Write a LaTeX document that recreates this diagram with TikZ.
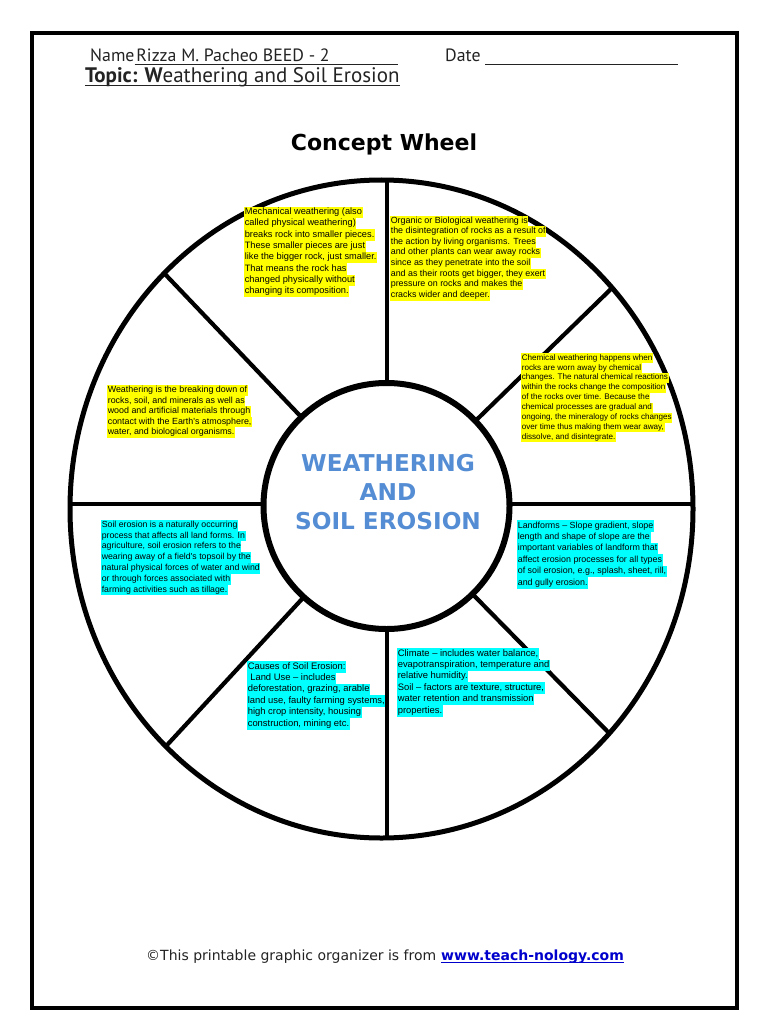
\documentclass[tikz,border=0pt]{standalone}
\usepackage{fontspec}
\setmainfont{DejaVu Sans}
\newfontfamily\hdrfont{PT Sans}
\newfontfamily\boxff{Liberation Sans}
\newfontfamily\vfont{DejaVu Sans}
\usetikzlibrary{calc}
\definecolor{hlyellow}{RGB}{255,255,0}
\definecolor{hlcyan}{RGB}{0,255,255}
\definecolor{centerblue}{RGB}{84,141,212}
\definecolor{linkblue}{RGB}{0,0,204}
\definecolor{hdrgray}{RGB}{35,35,35}
\setlength{\fboxsep}{0pt}
\newcommand\hy[1]{\colorbox{hlyellow}{\strut\kern0.6pt #1\kern0.6pt}}
\newcommand\hc[1]{\colorbox{hlcyan}{\strut\kern0.6pt #1\kern0.6pt}}
\newcommand\bxsz[2]{\boxff\fontsize{#1}{#2}\selectfont}
\tikzset{
  hdr/.style={inner sep=0pt, anchor=base west, text=hdrgray, font=\hdrfont\fontsize{17.8}{20}\selectfont},
  txtbox/.style={inner sep=0pt, anchor=north west, align=left},
  spoke/.style={line width=4.2pt},
}
\begin{document}
\begin{tikzpicture}[x=1pt,y=-1pt]
\useasboundingbox (0,0) rectangle (768,1024);
\fill[white] (0,0) rectangle (768,1024);
% page border
\draw[line width=4pt] (32,33) rectangle (737,1008);

% header
\node[hdr] (name) at (90,62) {Name};
\node[hdr] (nameval) at ($(name.base east)+(1.5,0)$) {Rizza M. Pacheo BEED - 2};
\draw[line width=0.9pt, hdrgray] ($(name.base east)+(0,2.2)$) -- (398,64.2);
\node[hdr] (date) at (445,62) {Date};
\draw[line width=0.9pt, hdrgray] (485,64.2) -- (678,64.2);
\node[hdr, font=\hdrfont\fontsize{21}{24}\selectfont] (topic) at (85,83) {\textbf{Topic: W}eathering and Soil Erosion};
\draw[line width=1pt, hdrgray] ($(topic.base west)+(0,2.8)$) -- ($(topic.base east)+(0,2.8)$);

% title
\node[inner sep=0pt, anchor=base, font=\vfont\bfseries\fontsize{22}{26}\selectfont] (title) at (384,151) {Concept Wheel};

% wheel geometry
\coordinate (C) at (387,507);
\coordinate (CH) at (387,504);
\coordinate (pT) at (387,150);
\coordinate (pB) at (387,870);
\coordinate (pL) at (40,504);
\coordinate (pR) at (730,504);
\coordinate (pUL) at (163,272);
\coordinate (pUR) at (612,288);
\coordinate (pLL) at (168,744);
\coordinate (pLR) at (608,732);
\begin{scope}
  \clip (381.5,509) ellipse [x radius=311.5, y radius=329];
  \draw[spoke] (C) -- (pT);
  \draw[spoke] (C) -- (pB);
  \draw[spoke] (CH) -- (pL);
  \draw[spoke] (CH) -- (pR);
  \draw[spoke] (C) -- ($(C)!1.15!(pUL)$);
  \draw[spoke] (C) -- ($(C)!1.15!(pUR)$);
  \draw[spoke] (C) -- ($(C)!1.15!(pLL)$);
  \draw[spoke] (C) -- ($(C)!1.15!(pLR)$);
\end{scope}
\draw[line width=5pt] (381.5,509) ellipse [x radius=311.5, y radius=329];
\draw[line width=6pt, fill=white] (386.5,506) circle [radius=123];

% centre text
\node[inner sep=0pt, align=center, text=centerblue, font=\vfont\bfseries\fontsize{23.2}{29}\selectfont] (hub) at (388,492) {WEATHERING\\AND\\SOIL EROSION};

% text boxes
\node[txtbox, font={\bxsz{9.25}{11.3}}] (mech) at (244,206.5) {\hy{Mechanical weathering (also}\\\hy{called physical weathering)}\\\hy{breaks rock into smaller pieces.}\\\hy{These smaller pieces are just}\\\hy{like the bigger rock, just smaller.}\\\hy{That means the rock has}\\\hy{changed physically without}\\\hy{changing its composition.}};

\node[txtbox, font={\bxsz{8.9}{10.6}}] (org) at (390,215.5) {\hy{Organic or Biological weathering is}\\\hy{the disintegration of rocks as a result of}\\\hy{the action by living organisms. Trees}\\\hy{and other plants can wear away rocks}\\\hy{since as they penetrate into the soil}\\\hy{and as their roots get bigger, they exert}\\\hy{pressure on rocks and makes the}\\\hy{cracks wider and deeper.}};

\node[txtbox, font={\bxsz{8.1}{9.9}}] (chem) at (521,353) {\hy{Chemical weathering happens when}\\\hy{rocks are worn away by chemical}\\\hy{changes. The natural chemical reactions}\\\hy{within the rocks change the composition}\\\hy{of the rocks over time. Because the}\\\hy{chemical processes are gradual and}\\\hy{ongoing, the mineralogy of rocks changes}\\\hy{over time thus making them wear away,}\\\hy{dissolve, and disintegrate.}};

\node[txtbox, font={\bxsz{8.9}{10.5}}] (weath) at (107,385) {\hy{Weathering is the breaking down of}\\\hy{rocks, soil, and minerals as well as}\\\hy{wood and artificial materials through}\\\hy{contact with the Earth's atmosphere,}\\\hy{water, and biological organisms.}};

\node[txtbox, font={\bxsz{8.75}{10.8}}] (soil) at (101,519.5) {\hc{Soil erosion is a naturally occurring}\\\hc{process that affects all land forms. In}\\\hc{agriculture, soil erosion refers to the}\\\hc{wearing away of a field's topsoil by the}\\\hc{natural physical forces of water and wind}\\\hc{or through forces associated with}\\\hc{farming activities such as tillage.}};

\node[txtbox, font={\bxsz{8.9}{11.4}}] (land) at (517,520) {\hc{Landforms – Slope gradient, slope}\\\hc{length and shape of slope are the}\\\hc{important variables of landform that}\\\hc{affect erosion processes for all types}\\\hc{of soil erosion, e.g., splash, sheet, rill,}\\\hc{and gully erosion.}};

\node[txtbox, font={\bxsz{9.4}{11.4}}] (causes) at (247,661) {\hc{Causes of Soil Erosion:}\\\hc{\hspace{2.5pt}Land Use – includes}\\\hc{deforestation, grazing, arable}\\\hc{land use, faulty farming systems,}\\\hc{high crop intensity, housing}\\\hc{construction, mining etc.}};

\node[txtbox, font={\bxsz{9.4}{11.4}}] (clim) at (397,648) {\hc{Climate – includes water balance,}\\\hc{evapotranspiration, temperature and}\\\hc{relative humidity.}\\\hc{Soil – factors are texture, structure,}\\\hc{water retention and transmission}\\\hc{properties.}};

% footer
\node[inner sep=0pt, anchor=base west, text=hdrgray, font=\vfont\fontsize{14}{16}\selectfont] (foot) at (146,960) {©This printable graphic organizer is from};
\node[inner sep=0pt, anchor=base west, text=linkblue, font=\vfont\bfseries\fontsize{14}{16}\selectfont] (link) at ($(foot.base east)+(4.5,0)$) {www.teach-nology.com};
\draw[line width=1pt, linkblue] ($(link.base west)+(0,2.5)$) -- ($(link.base east)+(0,2.5)$);
\end{tikzpicture}
\end{document}
